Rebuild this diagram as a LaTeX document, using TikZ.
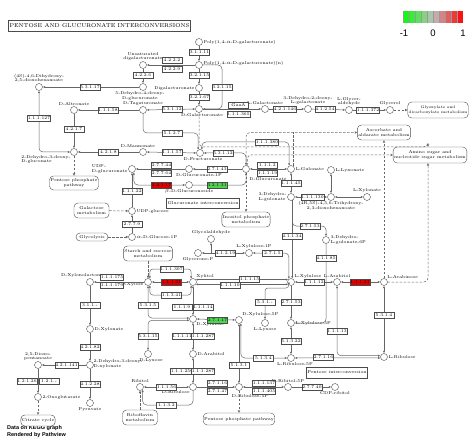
\documentclass[tikz,border=0pt]{standalone}
\usepackage{fontspec}
\newfontfamily\arialfont{Liberation Sans}
\usetikzlibrary{arrows.meta}
\definecolor{kred}{RGB}{225,0,0}
\definecolor{kgreen}{RGB}{80,210,80}
\definecolor{kgray}{RGB}{190,190,190}
\newcommand\enzfont{\fontsize{4.2}{4.6}\selectfont}
\newcommand\lblfont{\fontsize{4.2}{4.6}\selectfont}
\begin{document}
\begin{tikzpicture}[
    x=1pt, y=-1pt,
    >={Latex[length=2.4pt,width=2.2pt]},
    cpd/.style={circle,draw=black!70,line width=0.4pt,fill=white,minimum size=7pt,inner sep=0pt},
    enz/.style={rectangle,draw=black!70,line width=0.4pt,fill=white,minimum width=20pt,minimum height=6pt,inner sep=0.5pt,font=\enzfont},
    mapbox/.style={rectangle,rounded corners=4pt,draw=black!70,line width=0.4pt,fill=white,align=center,inner sep=1pt,font=\enzfont},
    plainbox/.style={rectangle,draw=black!70,line width=0.4pt,fill=white,inner sep=1pt,font=\enzfont},
    lbl/.style={font=\lblfont,inner sep=0.6pt,align=center},
    conn/.style={draw=black!60,line width=0.5pt},
    tomap/.style={conn,dash pattern=on 2.5pt off 1.5pt,-{Triangle[open,length=2.4pt,width=2.4pt]}},
    dconn/.style={conn,dash pattern=on 2.5pt off 1.5pt}
  ]
  \useasboundingbox (0,0) rectangle (474,441);

  % Title and legend
  \node[plainbox,minimum width=165pt,minimum height=11pt,font=\fontsize{5.6}{6}\selectfont] (title) at (99.5,25.5) {PENTOSE AND GLUCURONATE INTERCONVERSIONS};
  \foreach \i in {0,...,9} {
    \pgfmathtruncatemacro\p{abs(2*\i-9)*10}
    \ifnum\i<5 \def\cc{green}\else\def\cc{red}\fi
    \fill[\cc!\p!kgray] (403+6*\i,11) rectangle (409+6*\i,23);
    \draw[black!40,line width=0.3pt] (403+6*\i,11) -- (403+6*\i,23);
  }
  \node[font=\arialfont\fontsize{9.5}{10}\selectfont] (legm1) at (404,33) {-1};
  \node[font=\arialfont\fontsize{9.5}{10}\selectfont] (leg0) at (433,33) {0};
  \node[font=\arialfont\fontsize{9.5}{10}\selectfont] (legp1) at (463,33) {1};
  \node[anchor=west,inner sep=0pt,font=\arialfont\bfseries\fontsize{5.5}{6}\selectfont] (src1) at (7,428) {Data on KEGG graph};
  \node[anchor=west,inner sep=0pt,font=\arialfont\bfseries\fontsize{5.5}{6}\selectfont] (src2) at (7,435.5) {Rendered by Pathview};

  % Compounds
  \node[cpd,label={[lbl]right:Poly(1,4-$\alpha$-D-galacturonate)}] (poly) at (199,42) {};
  \node[cpd,label={[lbl,yshift=2pt]right:Poly(1,4-$\alpha$-D-galacturonate)(n)}] (polyn) at (199,65) {};
  \node[cpd,label={[lbl]above:Unsaturated\\digalacturonate}] (unsat) at (143,65) {};
  \node[cpd,label={[lbl,xshift=-3pt]below:5-Dehydro-4-deoxy-\\D-glucuronate}] (dehyd4) at (143,87) {};
  \node[cpd,label={[lbl]above:(4S)-4,6-Dihydroxy-\\2,5-dioxohexanoate}] (dihyd) at (39,87) {};
  \node[cpd,label={[lbl]left:Digalacturonate}] (digal) at (199,88) {};
  \node[cpd,label={[lbl,xshift=3pt]below:D-Galacturonate}] (dgal) at (199,109) {};
  \node[cpd,label={[lbl]above:D-Tagaturonate}] (dtag) at (143,110) {};
  \node[cpd,label={[lbl]above:D-Altronate}] (dalt) at (74,110) {};
  \node[cpd,label={[lbl,align=left]below left:2-Dehydro-3-deoxy-\\D-gluconate}] (kdg) at (74,152) {};
  \node[cpd,label={[lbl,xshift=-5pt]above:D-Mannonate}] (dman) at (143,152) {};
  \node[cpd,label={[lbl,xshift=3pt]below:D-Fructuronate}] (dfru) at (200,153) {};
  \node[cpd,label={[lbl]above:L-Galactonate}] (lgal) at (265,109) {};
  \node[cpd,label={[lbl]above:3-Dehydro-2-deoxy-\\L-galactonate}] (dhlgal) at (308,109) {};
  \node[cpd,label={[lbl]above:L-Glycer-\\aldehyde}] (lglyc) at (349,110) {};
  \node[cpd,label={[lbl]above:Glycerol}] (glycerol) at (390,110) {};
  \node[cpd,label={[lbl,align=left]left:UDP-\\D-glucuronate}] (udpgca) at (132,169) {};
  \node[cpd,label={[lbl,xshift=10pt]below:D-Glucuronate-1P}] (dgca1p) at (189,169) {};
  \node[cpd,label={[lbl,yshift=-5pt]below right:D-Glucuronate}] (dgca) at (246,169) {};
  \node[cpd,label={[lbl]below:$\beta$-D-Glucuronoside}] (bgluc) at (189,185) {};
  \node[cpd,label={[lbl]right:L-Gulonate}] (lgul) at (291,169) {};
  \node[cpd,label={[lbl,align=left]left:3-Dehydro-\\L-gulonate}] (dhgul) at (291,197) {};
  \node[cpd,label={[lbl]below:(4R,5S)-4,5,6-Trihydroxy-\\2,3-dioxohexanoate}] (trihyd) at (331,197) {};
  \node[cpd,label={[lbl]right:L-Lyxonate}] (llyxo) at (331,170) {};
  \node[cpd,label={[lbl]above:L-Xylonate}] (lxylo) at (367,197) {};
  \node[cpd,label={[lbl,align=left]right:3-Dehydro-\\L-gulonate-6P}] (dhgul6p) at (326,240) {};
  \node[cpd,label={[lbl]right:UDP-glucose}] (udpg) at (132,211) {};
  \node[cpd,label={[lbl]right:$\alpha$-D-Glucose-1P}] (glc1p) at (132,237) {};
  \node[cpd,label={[lbl]above:Glycolaldehyde}] (glyald) at (211,239) {};
  \node[cpd,label={[lbl]below:Glycerone-P}] (glyp) at (198,253) {};
  \node[cpd,label={[lbl,xshift=5pt]above:L-Xylulose-1P}] (lxylu1p) at (249,253) {};
  \node[cpd,label={[lbl,yshift=-2pt]left:D-Xylose}] (dxylose) at (148,282) {};
  \node[cpd,label={[lbl,xshift=-8pt]above:D-Xylonolactone}] (dxylac) at (90,282) {};
  \node[cpd,label={[lbl]above right:Xylitol}] (xylitol) at (193,282) {};
  \node[cpd,label={[lbl]above right:L-Xylulose}] (lxylu) at (291,282) {};
  \node[cpd,label={[lbl]above:L-Arabitol}] (larab) at (337,282) {};
  \node[cpd,label={[lbl]above right:L-Arabinose}] (lara) at (384,282) {};
  \node[cpd,label={[lbl]below right:D-Xylulose}] (dxylu) at (193,319) {};
  \node[cpd,label={[lbl]above right:D-Xylulose-5P}] (dxylu5p) at (239,320) {};
  \node[cpd,label={[lbl]right:L-Xylulose-5P}] (lxylu5p) at (291,323) {};
  \node[cpd,label={[lbl]below:L-Lyxose}] (llyx) at (265,323) {};
  \node[cpd,label={[lbl,xshift=3pt]below:D-Lyxose}] (dlyx) at (148,354) {};
  \node[cpd,label={[lbl]right:D-Arabitol}] (dara) at (193,354) {};
  \node[cpd,label={[lbl,xshift=4pt]below:L-Ribulose-5P}] (lrul5p) at (291,358) {};
  \node[cpd,label={[lbl]right:L-Ribulose}] (lrul) at (384,357) {};
  \node[cpd,label={[lbl]right:D-Xylonate}] (dxylon) at (90,329) {};
  \node[cpd,label={[lbl,align=left,xshift=-1pt,yshift=1pt]right:2-Dehydro-3-deoxy-\\D-xylonate}] (kdx) at (90,365) {};
  \node[cpd,label={[lbl]above:2,5-Dioxo-\\pentanoate}] (diox) at (38,365) {};
  \node[cpd,label={[lbl]right:2-Oxoglutarate}] (oxog) at (38,397) {};
  \node[cpd,label={[lbl]below:Pyruvate}] (pyr) at (90,403) {};
  \node[cpd,label={[lbl]above:Ribitol}] (ribitol) at (140,387) {};
  \node[cpd,label={[lbl]below left:D-Ribulose}] (drul) at (193,387) {};
  \node[cpd,label={[lbl,xshift=11pt,yshift=-3pt]below:D-Ribulose-5P}] (drul5p) at (239,387) {};
  \node[cpd,label={[lbl]above:D-Ribitol-5P}] (drit5p) at (288,387) {};
  \node[cpd,label={[lbl]below:CDP-ribitol}] (cdprit) at (335,387) {};
  \coordinate (aldbr) at (211,253);

  % Maps
  \node[mapbox,minimum width=49pt,minimum height=14pt] (pentmap1) at (74,183) {Pentose phosphate\\pathway};
  \node[mapbox,minimum width=35pt,minimum height=15pt] (galmap) at (91.5,210.5) {Galactose\\metabolism};
  \node[mapbox,minimum width=32pt,minimum height=8pt] (glymap) at (92,237) {Glycolysis};
  \node[mapbox,minimum width=48pt,minimum height=15pt] (starch) at (148,253.5) {Starch and sucrose\\metabolism};
  \node[mapbox,minimum width=47pt,minimum height=15pt] (inosmap) at (246,219.5) {Inositol phosphate\\metabolism};
  \node[mapbox,minimum width=53pt,minimum height=15pt] (ascmap) at (384,132.5) {Ascorbate and\\aldarate metabolism};
  \node[mapbox,minimum width=70pt,minimum height=16pt] (aminomap) at (430,155) {Amino sugar and\\nucleotide sugar metabolism};
  \node[mapbox,minimum width=42pt,minimum height=16pt,font=\fontsize{3.8}{4.3}\selectfont] (glyoxmap) at (438,110) {Glyoxylate and\\dicarboxylate metabolism};
  \node[mapbox,minimum width=35pt,minimum height=15pt] (ribomap) at (140,417.5) {Riboflavin\\metabolism};
  \node[mapbox,minimum width=68pt,minimum height=12pt] (pentmap2) at (239,419) {Pentose phosphate pathway};
  \node[mapbox,minimum width=33pt,minimum height=11pt] (citmap) at (38,420.5) {Citrate cycle};
  \node[plainbox,minimum width=70pt,minimum height=10pt] (glucint) at (203,203) {Glucuronate interconversion};
  \node[plainbox,minimum width=60pt,minimum height=11pt] (pentint) at (337,372.5) {Pentose interconversion};

  % Connections
  \draw[conn,->] (poly) -- (polyn);
  \draw[conn,->] (polyn) -- (unsat);
  \draw[conn,->] (unsat) -- (dehyd4);
  \draw[conn,->] (dehyd4) -- (dihyd);
  \draw[conn,<->,rounded corners=4pt] (dihyd) |- (kdg);
  \draw[conn,->] (polyn) -- (digal);
  \draw[conn,->] (digal) -- (dgal);
  \draw[conn,->,rounded corners=4pt] (polyn) -- (222,65) |- (dgal);
  \draw[conn,<->] (dgal) -- (dtag);
  \draw[conn,->] (dtag) -- (dalt);
  \draw[conn,->] (dalt) -- (kdg);
  \draw[conn,->] (dman) -- (kdg);
  \draw[conn,<->] (dfru) -- (dman);
  \draw[conn,->,rounded corners=4pt] (dtag) |- (dfru.120 |- 0,133) -- (dfru.120);
  \draw[conn,<->,rounded corners=4pt] (dfru.60) |- (lgul.120 |- 0,142) -- (lgul.120);
  \draw[conn,<->,rounded corners=4pt] (dgca) |- (dfru);
  \draw[conn,->] (dgal) -- (lgal);
  \draw[conn,->] (lgal) -- (dhlgal);
  \draw[conn,->] (dhlgal) -- (lglyc);
  \draw[conn,->] (lglyc) -- (glycerol);
  \draw[tomap] (glycerol) -- (glyoxmap);
  \draw[conn,<-] (udpgca) -- (dgca1p);
  \draw[conn,->] (dgca) -- (dgca1p);
  \draw[conn,<->,rounded corners=4pt] (udpgca.-60) |- (bgluc);
  \draw[conn,->,rounded corners=4pt] (bgluc) -| (dgca);
  \draw[conn,<->] (dgca) -- (lgul);
  \draw[conn,<->] (lgul) -- (dhgul);
  \draw[conn,<->] (dhgul) -- (trihyd);
  \draw[conn,<->] (llyxo) -- (trihyd);
  \draw[conn,<->] (trihyd) -- (lxylo);
  \draw[conn,->] (dhgul.-70) -- (lxylu.70);
  \draw[conn,->,rounded corners=4pt] (dhgul.-70) |- (dhgul6p |- 0,226) -- (dhgul6p);
  \draw[conn,->,rounded corners=4pt] (dhgul6p) |- (lxylu5p);
  \draw[conn,->] (udpg) -- (udpgca);
  \draw[conn,->] (glc1p) -- (udpg);
  \draw[tomap] (galmap) -- (udpg);
  \draw[tomap] (glymap) -- (glc1p);
  \draw[tomap] (starch) -- (dxylose);
  \draw[tomap] (kdg) -- (pentmap1);
  \draw[tomap] (dgca) -- (inosmap);
  \draw[tomap,rounded corners=4pt] (dgal) |- (aminomap.north -| 428,123) -- (aminomap.north -| 428,0);
  \draw[tomap,rounded corners=4pt] (dgca) |- (ascmap.west);
  \draw[dconn] (lgul.60) -- (lgul.60 |- 0,132.5);
  \draw[tomap,rounded corners=4pt] (dgca.70) |- (aminomap.west);
  \draw[tomap,rounded corners=4pt] (lara) -| (aminomap.south -| 428,0);
  \draw[tomap] (lara) -- (ascmap);
  \draw[conn,<->,rounded corners=4pt] (lxylu.125) |- (lxylu1p);
  \draw[conn,<->] (lxylu1p) -- (glyp);
  \draw[conn,->] (aldbr) -- (glyald);
  \draw[conn,->] (dxylose) -- (dxylac);
  \draw[conn,<->] (dxylose) -- (xylitol);
  \draw[conn,<->,rounded corners=3pt] (dxylose.60) |- (171,269) -| (xylitol.120);
  \draw[conn,<->,rounded corners=3pt] (dxylose.-60) |- (171,295) -| (xylitol.-120);
  \draw[conn,<->] (xylitol.40) -- (lxylu.140);
  \draw[conn,<->] (xylitol.-40) -- (lxylu.-140);
  \draw[conn,<->] (xylitol) -- (dxylu);
  \draw[conn,<->,rounded corners=4pt] (dxylose) |- (dxylu.165);
  \draw[conn,<->,rounded corners=4pt] (dxylu.200) -| (dlyx);
  \draw[conn,<->] (dxylu) -- (dxylu5p);
  \draw[conn,<->] (dxylu) -- (dara);
  \draw[conn,<->] (dara) -- (drul);
  \draw[conn,<->] (dxylu5p) -- (drul5p);
  \draw[conn,<->,rounded corners=4pt] (dxylu5p.-60) |- (lrul5p);
  \draw[conn,->] (drul) -- (drul5p);
  \draw[conn,<->] (drit5p) -- (drul5p);
  \draw[conn,->] (drit5p) -- (cdprit);
  \draw[conn,<->] (ribitol) -- (drul);
  \draw[conn,->,rounded corners=4pt] (drul) |- (ribitol.-45 |- 0,405) -- (ribitol.-45);
  \draw[tomap] (ribomap.north -| ribitol) -- (ribitol);
  \draw[tomap] (drul5p) -- (pentmap2);
  \draw[conn,<->] (lxylu) -- (larab);
  \draw[conn,<->] (larab) -- (lara);
  \draw[conn,<->,rounded corners=4pt] (larab) |- (lrul.160);
  \draw[conn,<->] (lrul5p) -- (lrul.195);
  \draw[conn,<->] (lara) -- (lrul);
  \draw[conn,->] (lxylu) -- (lxylu5p);
  \draw[conn,<->] (lxylu5p) -- (lrul5p);
  \draw[conn,<->,rounded corners=3pt] (lxylu.235) -- (lxylu.235 |- 0,288) -| (llyx);
  \draw[conn,->] (dxylac) -- (dxylon);
  \draw[conn,->] (dxylon) -- (kdx);
  \draw[conn,->] (kdx) -- (diox);
  \draw[conn,->] (kdx) -- (pyr);
  \draw[conn,->] (diox) -- (oxog);
  \draw[tomap] (oxog) -- (citmap);

  % Enzymes
  \node[enz] (e3111) at (199.5,52) {3.1.1.11};
  \node[enz] (e4222) at (172,60) {4.2.2.2};
  \node[enz] (e4229) at (172,69.5) {4.2.2.9};
  \node[enz] (e4226) at (143,75.5) {4.2.2.6};
  \node[enz] (e32115a) at (199.5,75.5) {3.2.1.15};
  \node[enz] (e32167) at (199.5,97.5) {3.2.1.67};
  \node[enz] (e32115b) at (222,87) {3.2.1.15};
  \node[enz] (e53117) at (90,87) {5.3.1.17};
  \node[enz] (e53112a) at (172,109.5) {5.3.1.12};
  \node[enz] (e11158) at (108,110) {1.1.1.58};
  \node[enz] (e111127) at (39,118) {1.1.1.127};
  \node[enz] (e4217) at (74,129.5) {4.2.1.7};
  \node[enz] (e4218) at (108.5,152.5) {4.2.1.8};
  \node[enz] (e5127) at (172,133) {5.1.2.7};
  \node[enz] (e11157) at (172,152.5) {1.1.1.57};
  \node[enz] (e53112b) at (223,153) {5.3.1.12};
  \node[enz] (e111380) at (267,142) {1.1.1.380};
  \node[enz] (egaaa) at (238.5,105) {GaaA};
  \node[enz] (e111365) at (238.5,114) {1.1.1.365};
  \node[enz] (e421146) at (285,109) {4.2.1.146};
  \node[enz] (e41254) at (325,109.5) {4.1.2.54};
  \node[enz] (e111372) at (368,110) {1.1.1.372};
  \node[enz] (e27744) at (161.5,165) {2.7.7.44};
  \node[enz] (e27764) at (161.5,173) {2.7.7.64};
  \node[enz,fill=kred] (e24117) at (161.5,185) {2.4.1.17};
  \node[enz] (e27143) at (217,169) {2.7.1.43};
  \node[enz,fill=kgreen] (e32131) at (217,185) {3.2.1.31};
  \node[enz] (e1112) at (267.5,165) {1.1.1.2};
  \node[enz] (e11119) at (267.5,173) {1.1.1.19};
  \node[enz] (e11145) at (291,183) {1.1.1.45};
  \node[enz] (e111130) at (312.5,197) {1.1.1.130};
  \node[enz] (e11122) at (132,191.5) {1.1.1.22};
  \node[enz] (e2779) at (132,224.5) {2.7.7.9};
  \node[enz] (e27153a) at (310,226) {2.7.1.53};
  \node[enz] (e41134) at (292,236) {4.1.1.34};
  \node[enz] (e41185) at (326,258) {4.1.1.85};
  \node[enz] (e41219) at (225.5,253) {4.1.2.19};
  \node[enz] (e2715) at (272.5,253) {2.7.1.5};
  \node[enz] (e111175) at (112,277) {1.1.1.175};
  \node[enz] (e111179) at (112,285) {1.1.1.179};
  \node[enz] (e111307) at (171.5,269) {1.1.1.307};
  \node[enz,fill=kred] (e11121a) at (171.5,282) {1.1.1.21};
  \node[enz] (e11341) at (171.5,295) {1.1.3.41};
  \node[enz] (e11115) at (249.5,279.5) {1.1.1.15};
  \node[enz] (e11110) at (230,285) {1.1.1.10};
  \node[enz] (e11112) at (314,282) {1.1.1.12};
  \node[enz,fill=kred] (e11121b) at (360,282) {1.1.1.21};
  \node[enz] (e311m) at (90,305) {3.1.1.-};
  \node[enz] (e5315) at (148,305) {5.3.1.5};
  \node[enz] (e1119) at (182,307) {1.1.1.9};
  \node[enz] (e11114) at (203,307) {1.1.1.14};
  \node[enz,fill=kgreen] (e27117) at (217.5,320) {2.7.1.17};
  \node[enz] (e531m) at (265,302) {5.3.1.-};
  \node[enz] (e27153b) at (291,302) {2.7.1.53};
  \node[enz] (e11113) at (337,331.5) {1.1.1.13};
  \node[enz] (e5314a) at (384,315) {5.3.1.4};
  \node[enz] (e53115) at (148,336) {5.3.1.15};
  \node[enz] (e11111) at (182,336) {1.1.1.11};
  \node[enz] (e111287a) at (203,336) {1.1.1.287};
  \node[enz] (e51322) at (291,341) {5.1.3.22};
  \node[enz] (e42182) at (90,347) {4.2.1.82};
  \node[enz] (e5134) at (263.5,358) {5.1.3.4};
  \node[enz] (e27116a) at (323.5,357.5) {2.7.1.16};
  \node[enz] (e5131) at (239,365.5) {5.1.3.1};
  \node[enz] (e421141) at (66.5,365) {4.2.1.141};
  \node[enz] (e111250) at (182,371) {1.1.1.250};
  \node[enz] (e111287b) at (203,371) {1.1.1.287};
  \node[enz] (e12126) at (27,381) {1.2.1.26};
  \node[enz] (e121m) at (49,381) {1.2.1.-};
  \node[enz] (e41228) at (90,384) {4.1.2.28};
  \node[enz] (e11156) at (166.5,387) {1.1.1.56};
  \node[enz] (e27116b) at (217.5,383) {2.7.1.16};
  \node[enz] (e27147) at (217.5,391) {2.7.1.47};
  \node[enz] (e111137) at (264,383) {1.1.1.137};
  \node[enz] (e111405) at (264,391) {1.1.1.405};
  \node[enz] (e27740) at (312,387) {2.7.7.40};
  \node[enz] (e1132) at (166.5,405) {1.1.3.2};
\end{tikzpicture}
\end{document}
